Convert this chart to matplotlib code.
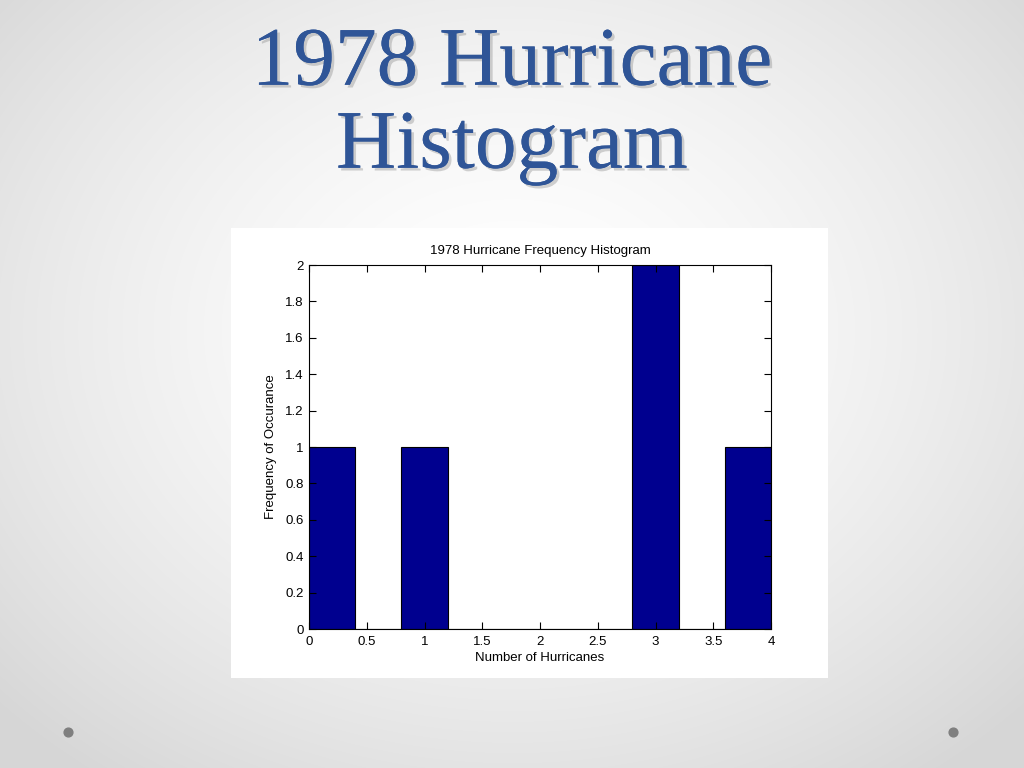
import matplotlib
matplotlib.use("Agg")
import matplotlib.pyplot as plt
import matplotlib.patheffects as pe
import numpy as np

# number of hurricanes per year in the sample
hurricanes = [0, 1, 3, 3, 4]
n_bins = 10
x_range = (0, 4)
x_ticks = [0, 0.5, 1, 1.5, 2, 2.5, 3, 3.5, 4]
x_tick_labels = ["0", "0.5", "1", "1.5", "2", "2.5", "3", "3.5", "4"]
y_ticks = [0, 0.2, 0.4, 0.6, 0.8, 1, 1.2, 1.4, 1.6, 1.8, 2]
y_tick_labels = ["0", "0.2", "0.4", "0.6", "0.8", "1", "1.2", "1.4", "1.6", "1.8", "2"]
title_lines = ["1978 Hurricane", "Histogram"]

TITLE_BLUE = "#2f5597"
BAR_BLUE = "#00008f"
SANS = ["Liberation Sans", "DejaVu Sans"]
SERIF = ["Liberation Serif", "DejaVu Serif"]

fig = plt.figure(figsize=(10.24, 7.68), dpi=100)

# ---------- slide background ----------
bg = fig.add_axes([0, 0, 1, 1])
yy, xx = np.mgrid[0:768, 0:1024]
r = np.sqrt(((xx - 512) / 700.0) ** 2 + ((yy - 330) / 560.0) ** 2)
shade = 1.0 - 0.16 * np.clip(r, 0, 1) ** 1.6
bg.imshow(np.dstack([shade, shade, shade]), extent=[0, 1024, 768, 0], aspect="auto")
bg.set_xlim(0, 1024); bg.set_ylim(768, 0); bg.axis("off")
bg.scatter([68, 953], [732, 732], s=40, color="#7f7f7f", zorder=3)

# slide title with soft shadow
shadow = [pe.withSimplePatchShadow(offset=(2, -2), shadow_rgbFace="#808080", alpha=0.35),
          pe.Normal()]
for line, y in zip(title_lines, (65, 148)):
    bg.text(512, y, line, ha="center", va="center", fontsize=60,
            family=SERIF, color=TITLE_BLUE, path_effects=shadow)

# ---------- white figure panel ----------
panel = fig.add_axes([231 / 1024, 1 - 678 / 768, 597 / 1024, 450 / 768])
panel.set_facecolor("white"); panel.set_xticks([]); panel.set_yticks([])
for s in panel.spines.values():
    s.set_visible(False)

# ---------- histogram ----------
ax = fig.add_axes([309 / 1024, 1 - 629 / 768, 462 / 1024, 364 / 768])
ax.hist(hurricanes, bins=n_bins, range=x_range, color=BAR_BLUE,
        edgecolor="black", linewidth=0.8)
ax.set_xlim(*x_range); ax.set_ylim(0, 2)
ax.set_xticks(x_ticks); ax.set_xticklabels(x_tick_labels)
ax.set_yticks(y_ticks); ax.set_yticklabels(y_tick_labels)
ax.tick_params(direction="in", top=True, right=True, length=5, width=0.8,
               labelsize=9.5)
ax.tick_params(axis="x", pad=5)
ax.tick_params(axis="y", pad=4)
for lab in ax.get_xticklabels() + ax.get_yticklabels():
    lab.set_family(SANS)
for s in ax.spines.values():
    s.set_linewidth(0.8)
ax.set_title("1978 Hurricane Frequency Histogram", fontsize=9.5, family=SANS, pad=8)
ax.set_xlabel("Number of Hurricanes", fontsize=9.5, family=SANS, labelpad=3)
ax.set_ylabel("Frequency of Occurance", fontsize=9.5, family=SANS, labelpad=6)

fig.savefig("out.png", dpi=100)
